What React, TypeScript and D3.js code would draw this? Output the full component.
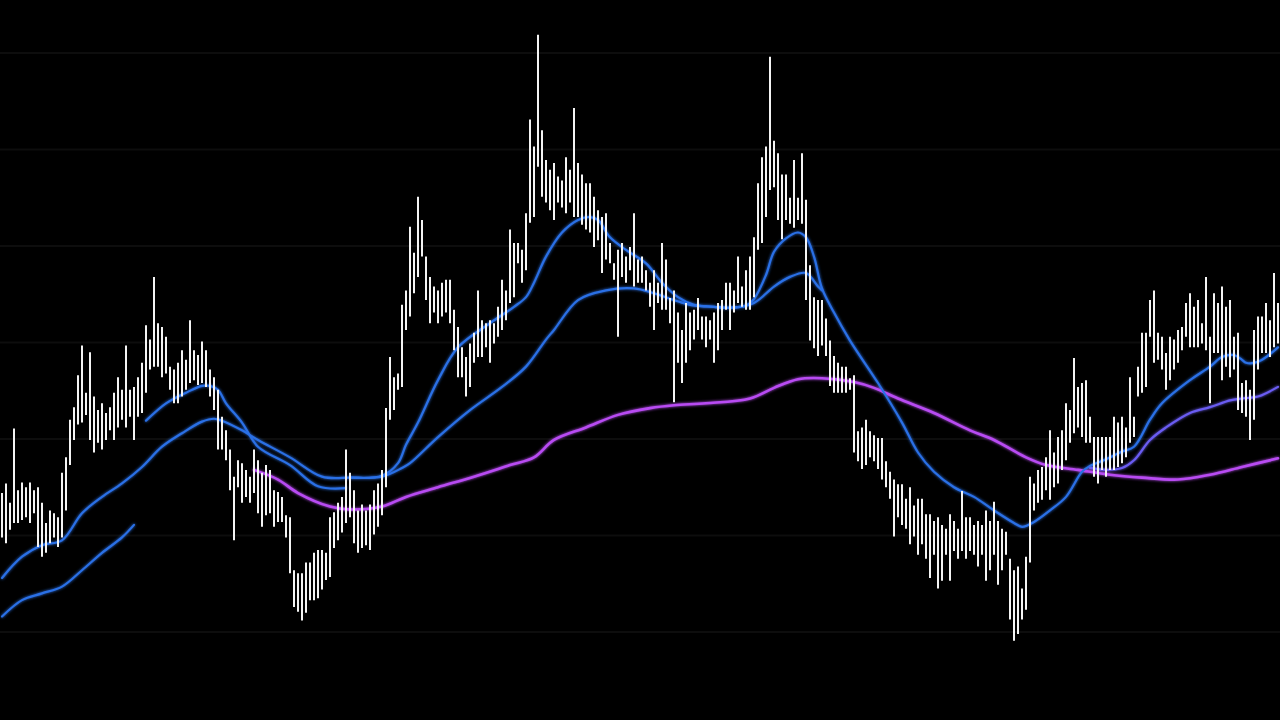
import React from 'react';
import * as d3 from 'd3';

const WIDTH = 1280;
const HEIGHT = 720;

// Price grid levels (faint horizontal lines)
const gridPrices = [1000, 1100, 1200, 1300, 1400, 1500, 1600];

// Bar highs, one per bar (320 bars)
const barHigh = [
  1144,1154,1134,1211,1147,1155,1150,1155,1147,1150,
  1134,1113,1126,1123,1119,1165,1181,1220,1233,1266,
  1297,1248,1290,1244,1230,1237,1227,1233,1248,1264,
  1251,1297,1251,1254,1264,1279,1318,1303,1368,1320,
  1316,1306,1275,1272,1279,1292,1282,1323,1292,1287,
  1301,1292,1272,1264,1251,1223,1209,1189,1161,1178,
  1175,1168,1161,1189,1178,1165,1173,1168,1147,1145,
  1140,1121,1119,1064,1061,1061,1072,1072,1082,1085,
  1085,1082,1119,1124,1134,1140,1189,1165,1147,1126,
  1132,1126,1132,1147,1154,1168,1232,1285,1264,1268,
  1339,1354,1420,1393,1451,1427,1389,1368,1358,1354,
  1362,1365,1365,1334,1316,1295,1285,1299,1310,1354,
  1323,1320,1323,1320,1337,1365,1354,1417,1403,1403,
  1396,1434,1531,1503,1619,1520,1489,1479,1486,1472,
  1468,1492,1479,1543,1486,1474,1465,1465,1451,1437,
  1430,1434,1403,1382,1396,1403,1389,1399,1434,1386,
  1389,1375,1362,1375,1362,1403,1386,1346,1354,1331,
  1313,1341,1331,1334,1346,1327,1327,1323,1331,1341,
  1344,1362,1362,1354,1389,1358,1375,1389,1409,1465,
  1492,1503,1596,1509,1496,1474,1474,1450,1489,1450,
  1496,1448,1380,1347,1344,1344,1325,1302,1286,1279,
  1275,1275,1263,1266,1208,1212,1220,1208,1204,1201,
  1201,1177,1166,1158,1153,1153,1138,1150,1131,1138,
  1138,1122,1122,1115,1119,1111,1107,1122,1115,1107,
  1146,1119,1119,1111,1115,1111,1126,1115,1135,1115,
  1107,1104,1076,1064,1068,1045,1078,1161,1154,1168,
  1171,1181,1209,1186,1202,1209,1237,1230,1284,1254,
  1258,1261,1223,1202,1202,1202,1202,1202,1223,1217,
  1223,1212,1264,1223,1275,1310,1310,1344,1354,1310,
  1306,1289,1306,1303,1313,1316,1341,1351,1337,1344,
  1320,1368,1306,1351,1341,1358,1337,1344,1306,1310,
  1258,1261,1251,1313,1327,1327,1341,1323,1372,1341,
];

// Bar lows, one per bar
const barLow = [
  1098,1092,1106,1113,1113,1116,1119,1113,1123,1088,
  1078,1082,1092,1098,1088,1098,1126,1173,1199,1215,
  1217,1225,1199,1186,1196,1189,1199,1209,1199,1212,
  1220,1212,1223,1199,1223,1227,1248,1272,1275,1275,
  1264,1268,1251,1237,1237,1244,1251,1258,1261,1256,
  1258,1254,1244,1230,1189,1189,1178,1147,1095,1150,
  1134,1140,1134,1144,1123,1109,1121,1123,1109,1114,
  1114,1098,1061,1026,1021,1012,1020,1033,1033,1035,
  1044,1054,1057,1087,1095,1103,1113,1119,1092,1082,
  1087,1090,1085,1101,1109,1121,1150,1220,1230,1251,
  1254,1313,1327,1351,1368,1389,1344,1320,1331,1320,
  1327,1331,1320,1292,1264,1264,1244,1254,1279,1285,
  1285,1295,1279,1299,1306,1313,1323,1341,1347,1382,
  1362,1375,1424,1430,1482,1451,1445,1437,1427,1445,
  1440,1434,1445,1430,1430,1422,1417,1414,1399,1406,
  1372,1386,1382,1365,1306,1368,1362,1375,1358,1362,
  1362,1354,1337,1313,1341,1334,1334,1320,1238,1279,
  1258,1279,1292,1303,1313,1303,1295,1303,1279,1292,
  1313,1334,1313,1331,1341,1337,1334,1334,1347,1396,
  1403,1430,1458,1461,1427,1407,1427,1423,1419,1427,
  1423,1344,1302,1294,1286,1297,1286,1255,1248,1248,
  1248,1248,1251,1186,1177,1169,1173,1181,1177,1169,
  1158,1150,1138,1099,1119,1111,1107,1091,1099,1080,
  1091,1076,1056,1080,1045,1053,1080,1053,1084,1076,
  1084,1076,1084,1080,1068,1080,1053,1064,1080,1049,
  1064,1080,1013,991,998,1013,1023,1072,1126,1134,
  1137,1147,1137,1150,1154,1168,1178,1196,1206,1212,
  1202,1196,1196,1161,1154,1168,1161,1168,1168,1171,
  1175,1181,1196,1202,1244,1248,1254,1306,1279,1282,
  1272,1251,1261,1272,1279,1292,1306,1295,1295,1295,
  1299,1292,1237,1289,1289,1261,1275,1264,1272,1230,
  1227,1223,1199,1220,1272,1289,1289,1285,1295,1299,
];

// Moving-average traces as [barIndex, price]
const maShortLeft: [number, number][] = [
  [0, 1016], [5, 1033], [10, 1040], [15, 1047], [20, 1064], [25, 1082], [30, 1098], [33, 1111],
];

const maFastLeft: [number, number][] = [
  [36, 1219], [41, 1237], [46, 1248], [50, 1255], [52, 1255], [54, 1251], [56, 1237],
  [60, 1217], [64, 1192], [72, 1173], [79, 1151], [86, 1149],
];

const maMain: [number, number][] = [
  [0, 1056], [5, 1078], [10, 1090], [15, 1095], [20, 1123], [25, 1140], [30, 1154], [35, 1171],
  [40, 1192], [45, 1206], [50, 1218], [53, 1221], [55, 1219], [60, 1209], [64, 1199], [72, 1181],
  [80, 1161], [87, 1160], [95, 1162], [99, 1175], [101, 1194], [104, 1217], [109, 1261], [114, 1295],
  [122, 1320], [128, 1337], [131, 1347], [133, 1362], [136, 1389], [140, 1414], [144, 1427], [147, 1430],
  [149, 1427], [152, 1409], [156, 1396], [161, 1382], [165, 1362], [169, 1347], [173, 1339], [178, 1337],
  [182, 1336], [186, 1338], [188, 1345], [191, 1370], [193, 1394], [196, 1408], [199, 1414], [201, 1409],
  [203, 1389], [205, 1356], [208, 1331], [212, 1302], [219, 1258], [225, 1217], [229, 1186], [233, 1166],
  [238, 1150], [243, 1140], [248, 1126], [253, 1113], [255, 1109], [258, 1114], [262, 1126], [266, 1140],
  [270, 1166], [272, 1172], [276, 1179], [280, 1187], [283, 1192], [287, 1220], [290, 1237], [297, 1261],
  [302, 1275], [305, 1285], [308, 1287], [310, 1282], [311, 1279], [314, 1280], [319, 1295],
];

const maSlow: [number, number][] = [
  [87, 1160], [95, 1161], [100, 1170], [102, 1175], [109, 1202], [117, 1230], [125, 1254], [131, 1275],
  [136, 1303], [138, 1313], [144, 1344], [151, 1354], [158, 1356], [163, 1351], [168, 1344], [172, 1339],
  [178, 1337], [182, 1336], [188, 1341], [193, 1358], [197, 1368], [201, 1372], [204, 1358], [205, 1354],
];

const maSlowRight: [number, number][] = [
  [272, 1170], [276, 1168], [280, 1170], [283, 1178], [287, 1199], [291, 1212], [297, 1227],
  [302, 1233], [307, 1240], [310, 1242], [314, 1244], [319, 1254],
];

const maLong: [number, number][] = [
  [63, 1168], [69, 1158], [74, 1144], [82, 1130], [87, 1127], [95, 1130], [101, 1140], [109, 1150],
  [118, 1161], [127, 1173], [133, 1181], [138, 1199], [146, 1212], [154, 1225], [162, 1232], [168, 1235],
  [176, 1237], [187, 1242], [193, 1253], [199, 1262], [205, 1263], [213, 1259], [218, 1253], [224, 1242],
  [233, 1227], [242, 1209], [248, 1199], [256, 1181], [261, 1173], [269, 1168], [277, 1163], [285, 1160],
  [294, 1158], [302, 1163], [310, 1171], [319, 1180],
];

const BLUE = '#2a70e6';

export default function App() {
  const x = d3.scaleLinear().domain([0, barHigh.length - 1]).range([2, 1278]);
  const y = d3.scaleLinear().domain([1000, 1600]).range([632, 53]);
  const line = d3
    .line<[number, number]>()
    .x((d) => x(d[0]))
    .y((d) => y(d[1]))
    .curve(d3.curveCatmullRom.alpha(0.5));

  const traces = [
    { data: maLong, color: '#b84bf2', w: 2.6 },
    { data: maShortLeft, color: BLUE, w: 2.2 },
    { data: maMain, color: BLUE, w: 2.2 },
    { data: maSlow, color: BLUE, w: 2.2 },
    { data: maFastLeft, color: BLUE, w: 2.2 },
    { data: maSlowRight, color: '#6a5cf2', w: 2.2 },
  ];

  return (
    <div style={{ position: 'fixed', left: 0, top: 0, width: WIDTH, height: HEIGHT, background: '#000' }}>
      <svg width={WIDTH} height={HEIGHT} style={{ display: 'block' }}>
        <defs>
          <filter id="glow" x="-5%" y="-20%" width="110%" height="140%">
            <feGaussianBlur stdDeviation="1.6" result="b" />
            <feMerge>
              <feMergeNode in="b" />
              <feMergeNode in="SourceGraphic" />
            </feMerge>
          </filter>
        </defs>
        <rect x={0} y={0} width={WIDTH} height={HEIGHT} fill="#000" />
        {gridPrices.map((p) => (
          <line key={p} x1={0} x2={WIDTH} y1={y(p)} y2={y(p)} stroke="#0d0d0d" strokeWidth={2} />
        ))}
        <g filter="url(#glow)">
          {traces.map((t, k) => (
            <path key={k} d={line(t.data) || ''} fill="none" stroke={t.color} strokeWidth={t.w} strokeLinecap="round" />
          ))}
        </g>
        <g>
          {barHigh.map((h, i) => (
            <line
              key={i}
              x1={x(i)}
              x2={x(i)}
              y1={y(h)}
              y2={y(barLow[i])}
              stroke="#f4f4f4"
              strokeWidth={2}
            />
          ))}
        </g>
      </svg>
    </div>
  );
}
